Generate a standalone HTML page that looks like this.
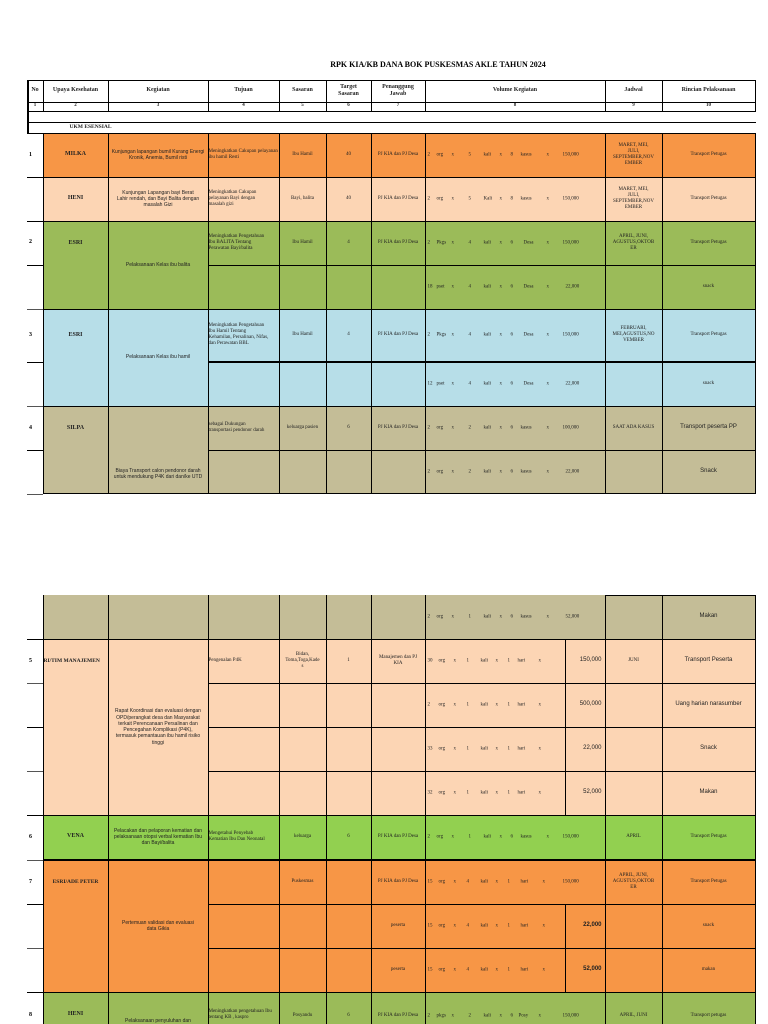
<!DOCTYPE html>
<html style="overflow:hidden"><head><meta charset="utf-8">
<style>
html,body{margin:0;width:768px;height:1024px;overflow:hidden}
body{background:#fff;position:relative;font-family:"Liberation Serif",serif;}
.c{position:absolute;box-sizing:border-box;border:1px solid #000;display:flex;align-items:center;justify-content:center;text-align:center;font-size:5px;line-height:1.25;color:#222;overflow:hidden;margin:-0.5px 0 0 -0.5px}
.s{font-family:"Liberation Sans",sans-serif;padding-left:5px;padding-right:5px}
.l{justify-content:flex-start;text-align:left;}
.b{font-weight:bold;font-size:6px;}
.v{position:absolute;box-sizing:border-box;border:1px solid #000;font-size:5px;color:#222;margin:-0.5px 0 0 -0.5px}
.v i{font-style:normal;position:absolute;top:50%;transform:translateY(-50%);}
.n{position:absolute;left:29px;font-size:6px;font-weight:bold;transform:translateY(-50%);}
.h{font-weight:bold;font-size:6px;background:#fff}
</style></head><body>
<div style="position:absolute;left:0;width:876px;top:60px;text-align:center;font-weight:bold;font-size:8px">RPK KIA/KB DANA BOK  PUSKESMAS AKLE TAHUN 2024</div>

<!-- header -->
<div class="c h" style="left:27px;top:80px;width:17px;height:23px">No</div>
<div class="c h" style="left:43px;top:80px;width:66px;height:23px">Upaya Kesehatan</div>
<div class="c h" style="left:108px;top:80px;width:101px;height:23px">Kegiatan</div>
<div class="c h" style="left:208px;top:80px;width:72px;height:23px">Tujuan</div>
<div class="c h" style="left:279px;top:80px;width:48px;height:23px">Sasaran</div>
<div class="c h" style="left:326px;top:80px;width:46px;height:23px">Target<br>Sasaran</div>
<div class="c h" style="left:371px;top:80px;width:55px;height:23px">Penanggung<br>Jawab</div>
<div class="c h" style="left:425px;top:80px;width:181px;height:23px">Volume Kegiatan</div>
<div class="c h" style="left:605px;top:80px;width:58px;height:23px">Jadwal</div>
<div class="c h" style="left:662px;top:80px;width:94px;height:23px">Rincian Pelaksanaan</div>
<div class="c h" style="left:27px;top:102px;width:17px;height:10px;font-size:5px">1</div>
<div class="c h" style="left:43px;top:102px;width:66px;height:10px;font-size:5px">2</div>
<div class="c h" style="left:108px;top:102px;width:101px;height:10px;font-size:5px">3</div>
<div class="c h" style="left:208px;top:102px;width:72px;height:10px;font-size:5px">4</div>
<div class="c h" style="left:279px;top:102px;width:48px;height:10px;font-size:5px">5</div>
<div class="c h" style="left:326px;top:102px;width:46px;height:10px;font-size:5px">6</div>
<div class="c h" style="left:371px;top:102px;width:55px;height:10px;font-size:5px">7</div>
<div class="c h" style="left:425px;top:102px;width:181px;height:10px;font-size:5px">8</div>
<div class="c h" style="left:605px;top:102px;width:58px;height:10px;font-size:5px">9</div>
<div class="c h" style="left:662px;top:102px;width:94px;height:10px;font-size:5px">10</div>
<div class="c h" style="left:27px;top:111px;width:729px;height:12px;border-right:none"></div>
<div class="c h l" style="left:27px;top:122px;width:729px;height:12px;border-right:none;padding-left:42px;font-size:5.5px">UKM ESENSIAL</div>
<div style="position:absolute;left:27px;top:80px;width:2px;height:54px;background:#000"></div>

<!-- Row 1 -->
<div class="n" style="top:155px">1</div>
<div class="c b" style="left:43px;top:133px;width:66px;height:45px;background:#f79646">MILKA</div>
<div class="c s" style="left:108px;top:133px;width:101px;height:45px;background:#f79646;padding:0 1px">Kunjungan lapangan bumil Kurang Energi Kronik, Anemia, Bumil risti</div>
<div class="c l" style="left:208px;top:133px;width:72px;height:45px;background:#f79646">Meningkatkan Cakupan pelayanan ibu hamil Resti</div>
<div class="c" style="left:279px;top:133px;width:48px;height:45px;background:#f79646">Ibu Hamil</div>
<div class="c" style="left:326px;top:133px;width:46px;height:45px;background:#f79646">40</div>
<div class="c" style="left:371px;top:133px;width:55px;height:45px;background:#f79646">PJ KIA dan PJ Desa</div>
<div class="v" style="left:425px;top:133px;width:181px;height:45px;background:#f79646"><i style="left:2px">2</i><i style="left:11px">org</i><i style="left:26px">x</i><i style="left:43px">5</i><i style="left:58px">kali</i><i style="left:74px">x</i><i style="left:85px">8</i><i style="left:95px">kasus</i><i style="left:121px">x</i><i style="left:137px">150,000</i></div>
<div class="c" style="left:605px;top:133px;width:58px;height:45px;background:#f79646">MARET, MEI,<br>JULI,<br>SEPTEMBER,NOV<br>EMBER</div>
<div class="c" style="left:662px;top:133px;width:94px;height:45px;background:#f79646">Transport Petugas</div>

<!-- Row HENI -->
<div class="c b" style="left:43px;top:177px;width:66px;height:45px;background:#fcd5b4">HENI</div>
<div class="c s" style="left:108px;top:177px;width:101px;height:45px;background:#fcd5b4;padding:0 8px">Kunjungan Lapangan bayi Berat Lahir rendah, dan Bayi Balita dengan masalah Gizi</div>
<div class="c l" style="left:208px;top:177px;width:72px;height:45px;background:#fcd5b4;padding-right:6px">Meningkatkan Cakupan pelayanan Bayi dengan masalah gizi</div>
<div class="c" style="left:279px;top:177px;width:48px;height:45px;background:#fcd5b4">Bayi, balita</div>
<div class="c" style="left:326px;top:177px;width:46px;height:45px;background:#fcd5b4">40</div>
<div class="c" style="left:371px;top:177px;width:55px;height:45px;background:#fcd5b4">PJ KIA dan PJ Desa</div>
<div class="v" style="left:425px;top:177px;width:181px;height:45px;background:#fcd5b4"><i style="left:2px">2</i><i style="left:11px">org</i><i style="left:26px">x</i><i style="left:43px">5</i><i style="left:58px">Kali</i><i style="left:74px">x</i><i style="left:85px">8</i><i style="left:95px">kasus</i><i style="left:121px">x</i><i style="left:137px">150,000</i></div>
<div class="c" style="left:605px;top:177px;width:58px;height:45px;background:#fcd5b4">MARET, MEI,<br>JULI,<br>SEPTEMBER,NOV<br>EMBER</div>
<div class="c" style="left:662px;top:177px;width:94px;height:45px;background:#fcd5b4">Transport Petugas</div>

<!-- Row 2 ESRI green -->
<div class="n" style="top:242px">2</div>
<div class="c b" style="left:43px;top:221px;width:66px;height:89px;background:#9bbb59;align-items:flex-start;padding-top:18px">ESRI</div>
<div class="c s" style="left:108px;top:221px;width:101px;height:89px;background:#9bbb59">Pelaksanaan Kelas ibu balita</div>
<div class="c l" style="left:208px;top:221px;width:72px;height:45px;background:#9bbb59;padding-right:10px">Meningkatkan Pengetahuan Ibu BALITA Tentang Perawatan Bayi/balita</div>
<div class="c" style="left:279px;top:221px;width:48px;height:45px;background:#9bbb59">Ibu Hamil</div>
<div class="c" style="left:326px;top:221px;width:46px;height:45px;background:#9bbb59">4</div>
<div class="c" style="left:371px;top:221px;width:55px;height:45px;background:#9bbb59">PJ KIA dan PJ Desa</div>
<div class="v" style="left:425px;top:221px;width:181px;height:45px;background:#9bbb59"><i style="left:2px">2</i><i style="left:11px">Pkgs</i><i style="left:26px">x</i><i style="left:43px">4</i><i style="left:58px">kali</i><i style="left:74px">x</i><i style="left:85px">6</i><i style="left:98px">Desa</i><i style="left:121px">x</i><i style="left:137px">150,000</i></div>
<div class="c" style="left:605px;top:221px;width:58px;height:45px;background:#9bbb59">APRIL, JUNI,<br>AGUSTUS,OKTOB<br>ER</div>
<div class="c" style="left:662px;top:221px;width:94px;height:45px;background:#9bbb59">Transport Petugas</div>
<div class="c" style="left:208px;top:265px;width:72px;height:45px;background:#9bbb59"></div>
<div class="c" style="left:279px;top:265px;width:48px;height:45px;background:#9bbb59"></div>
<div class="c" style="left:326px;top:265px;width:46px;height:45px;background:#9bbb59"></div>
<div class="c" style="left:371px;top:265px;width:55px;height:45px;background:#9bbb59"></div>
<div class="v" style="left:425px;top:265px;width:181px;height:45px;background:#9bbb59"><i style="left:2px">18</i><i style="left:11px">pset</i><i style="left:26px">x</i><i style="left:43px">4</i><i style="left:58px">kali</i><i style="left:74px">x</i><i style="left:85px">6</i><i style="left:98px">Desa</i><i style="left:121px">x</i><i style="left:140px">22,000</i></div>
<div class="c" style="left:605px;top:265px;width:58px;height:45px;background:#9bbb59"></div>
<div class="c" style="left:662px;top:265px;width:94px;height:45px;background:#9bbb59">snack</div>

<!-- Row 3 ESRI blue -->
<div class="n" style="top:335px">3</div>
<div class="c b" style="left:43px;top:309px;width:66px;height:98px;background:#b7dee8;align-items:flex-start;padding-top:22px">ESRI</div>
<div class="c s" style="left:108px;top:309px;width:101px;height:98px;background:#b7dee8">Pelaksanaan Kelas ibu hamil</div>
<div class="c l" style="left:208px;top:309px;width:72px;height:53px;background:#b7dee8;padding-right:10px">Meningkatkan Pengetahuan Ibu Hamil Tentang Kehamilan, Persalinan, Nifas, dan Perawatan BBL</div>
<div class="c" style="left:279px;top:309px;width:48px;height:53px;background:#b7dee8">Ibu Hamil</div>
<div class="c" style="left:326px;top:309px;width:46px;height:53px;background:#b7dee8">4</div>
<div class="c" style="left:371px;top:309px;width:55px;height:53px;background:#b7dee8">PJ KIA dan PJ Desa</div>
<div class="v" style="left:425px;top:309px;width:181px;height:53px;background:#b7dee8"><i style="left:2px">2</i><i style="left:11px">Pkgs</i><i style="left:26px">x</i><i style="left:43px">4</i><i style="left:58px">kali</i><i style="left:74px">x</i><i style="left:85px">6</i><i style="left:98px">Desa</i><i style="left:121px">x</i><i style="left:137px">150,000</i></div>
<div class="c" style="left:605px;top:309px;width:58px;height:53px;background:#b7dee8">FEBRUARI,<br>MEI,AGUSTUS,NO<br>VEMBER</div>
<div class="c" style="left:662px;top:309px;width:94px;height:53px;background:#b7dee8">Transport Petugas</div>
<div class="c" style="left:208px;top:362px;width:72px;height:45px;background:#b7dee8"></div>
<div class="c" style="left:279px;top:362px;width:48px;height:45px;background:#b7dee8"></div>
<div class="c" style="left:326px;top:362px;width:46px;height:45px;background:#b7dee8"></div>
<div class="c" style="left:371px;top:362px;width:55px;height:45px;background:#b7dee8"></div>
<div class="v" style="left:425px;top:362px;width:181px;height:45px;background:#b7dee8"><i style="left:2px">12</i><i style="left:11px">pset</i><i style="left:26px">x</i><i style="left:43px">4</i><i style="left:58px">kali</i><i style="left:74px">x</i><i style="left:85px">6</i><i style="left:98px">Desa</i><i style="left:121px">x</i><i style="left:140px">22,000</i></div>
<div class="c" style="left:605px;top:362px;width:58px;height:45px;background:#b7dee8"></div>
<div class="c" style="left:662px;top:362px;width:94px;height:45px;background:#b7dee8">snack</div>

<!-- Row 4 SILPA tan -->
<div class="n" style="top:428px">4</div>
<div class="c b" style="left:43px;top:406px;width:66px;height:88px;background:#c4bd97;align-items:flex-start;padding-top:18px">SILPA</div>
<div class="c s" style="left:108px;top:406px;width:101px;height:88px;background:#c4bd97;align-items:flex-end;padding-bottom:12px">Biaya Transport calon pendonor darah untuk mendukung P4K dari dan/ke UTD</div>
<div class="c l" style="left:208px;top:406px;width:72px;height:45px;background:#c4bd97;padding-right:12px">sebagai Dukungan transportasi pendonor darah</div>
<div class="c" style="left:279px;top:406px;width:48px;height:45px;background:#c4bd97">keluarga pasien</div>
<div class="c" style="left:326px;top:406px;width:46px;height:45px;background:#c4bd97">6</div>
<div class="c" style="left:371px;top:406px;width:55px;height:45px;background:#c4bd97">PJ KIA dan PJ Desa</div>
<div class="v" style="left:425px;top:406px;width:181px;height:45px;background:#c4bd97"><i style="left:2px">2</i><i style="left:11px">org</i><i style="left:26px">x</i><i style="left:43px">2</i><i style="left:58px">kali</i><i style="left:74px">x</i><i style="left:85px">6</i><i style="left:95px">kasus</i><i style="left:121px">x</i><i style="left:137px">100,000</i></div>
<div class="c" style="left:605px;top:406px;width:58px;height:45px;background:#c4bd97">SAAT ADA KASUS</div>
<div class="c s" style="left:662px;top:406px;width:94px;height:45px;background:#c4bd97;font-size:6px">Transport peserta PP</div>
<div class="c" style="left:208px;top:450px;width:72px;height:44px;background:#c4bd97"></div>
<div class="c" style="left:279px;top:450px;width:48px;height:44px;background:#c4bd97"></div>
<div class="c" style="left:326px;top:450px;width:46px;height:44px;background:#c4bd97"></div>
<div class="c" style="left:371px;top:450px;width:55px;height:44px;background:#c4bd97"></div>
<div class="v" style="left:425px;top:450px;width:181px;height:44px;background:#c4bd97"><i style="left:2px">2</i><i style="left:11px">org</i><i style="left:26px">x</i><i style="left:43px">2</i><i style="left:58px">kali</i><i style="left:74px">x</i><i style="left:85px">6</i><i style="left:95px">kasus</i><i style="left:121px">x</i><i style="left:140px">22,000</i></div>
<div class="c" style="left:605px;top:450px;width:58px;height:44px;background:#c4bd97"></div>
<div class="c s" style="left:662px;top:450px;width:94px;height:44px;background:#c4bd97;font-size:6px">Snack</div>

<!-- Continuation tan row -->
<div class="c" style="left:43px;top:595px;width:66px;height:45px;background:#c4bd97;border-top:none"></div>
<div class="c" style="left:108px;top:595px;width:101px;height:45px;background:#c4bd97;border-top:none"></div>
<div class="c" style="left:208px;top:595px;width:72px;height:45px;background:#c4bd97;border-top:none"></div>
<div class="c" style="left:279px;top:595px;width:48px;height:45px;background:#c4bd97;border-top:none"></div>
<div class="c" style="left:326px;top:595px;width:46px;height:45px;background:#c4bd97;border-top:none"></div>
<div class="c" style="left:371px;top:595px;width:55px;height:45px;background:#c4bd97;border-top:none"></div>
<div class="v" style="left:425px;top:595px;width:181px;height:45px;background:#c4bd97;border-top:none"><i style="left:2px">2</i><i style="left:11px">org</i><i style="left:26px">x</i><i style="left:43px">1</i><i style="left:58px">kali</i><i style="left:74px">x</i><i style="left:85px">6</i><i style="left:95px">kasus</i><i style="left:121px">x</i><i style="left:140px">52,000</i></div>
<div class="c" style="left:605px;top:595px;width:58px;height:45px;background:#c4bd97"></div>
<div class="c s" style="left:662px;top:595px;width:94px;height:45px;background:#c4bd97;font-size:6px">Makan</div>

<!-- Row 5 peach -->
<div class="n" style="top:661px">5</div>
<div class="c b l" style="left:43px;top:639px;width:66px;height:177px;background:#fcd5b4;align-items:flex-start;padding-top:18px;font-size:5.5px;white-space:nowrap">RI/TIM MANAJEMEN</div>
<div class="c s" style="left:108px;top:639px;width:101px;height:177px;background:#fcd5b4">Rapat Koordinasi dan evaluasi dengan OPD/perangkat desa dan Masyarakat terkait Perencanaan Persalinan dan Pencegahan Komplikasi (P4K), termasuk pemantauan ibu hamil risiko tinggi</div>
<div class="c l" style="left:208px;top:639px;width:72px;height:45px;background:#fcd5b4">Pengenalan P4K</div>
<div class="c" style="left:279px;top:639px;width:48px;height:45px;background:#fcd5b4">Bidan,<br>Toma,Toga,Kade<br>s</div>
<div class="c" style="left:326px;top:639px;width:46px;height:45px;background:#fcd5b4">1</div>
<div class="c" style="left:371px;top:639px;width:55px;height:45px;background:#fcd5b4">Manajemen dan PJ<br>KIA</div>
<div class="v" style="left:425px;top:639px;width:141px;height:45px;background:#fcd5b4"><i style="left:2px">30</i><i style="left:13px">org</i><i style="left:28px">x</i><i style="left:41px">1</i><i style="left:55px">kali</i><i style="left:70px">x</i><i style="left:82px">1</i><i style="left:92px">hari</i><i style="left:113px">x</i></div>
<div class="c s" style="left:565px;top:639px;width:41px;height:45px;background:#fcd5b4;font-size:6px;justify-content:flex-end;padding-right:3px">150,000</div>
<div class="c" style="left:605px;top:639px;width:58px;height:45px;background:#fcd5b4">JUNI</div>
<div class="c s" style="left:662px;top:639px;width:94px;height:45px;background:#fcd5b4;font-size:6px">Transport Peserta</div>

<div class="c" style="left:208px;top:683px;width:72px;height:45px;background:#fcd5b4"></div>
<div class="c" style="left:279px;top:683px;width:48px;height:45px;background:#fcd5b4"></div>
<div class="c" style="left:326px;top:683px;width:46px;height:45px;background:#fcd5b4"></div>
<div class="c" style="left:371px;top:683px;width:55px;height:45px;background:#fcd5b4"></div>
<div class="v" style="left:425px;top:683px;width:141px;height:45px;background:#fcd5b4"><i style="left:2px">2</i><i style="left:13px">org</i><i style="left:28px">x</i><i style="left:41px">1</i><i style="left:55px">kali</i><i style="left:70px">x</i><i style="left:82px">1</i><i style="left:92px">hari</i><i style="left:113px">x</i></div>
<div class="c s" style="left:565px;top:683px;width:41px;height:45px;background:#fcd5b4;font-size:6px;justify-content:flex-end;padding-right:3px">500,000</div>
<div class="c" style="left:605px;top:683px;width:58px;height:45px;background:#fcd5b4"></div>
<div class="c s" style="left:662px;top:683px;width:94px;height:45px;background:#fcd5b4;font-size:6px">Uang harian narasumber</div>

<div class="c" style="left:208px;top:727px;width:72px;height:45px;background:#fcd5b4"></div>
<div class="c" style="left:279px;top:727px;width:48px;height:45px;background:#fcd5b4"></div>
<div class="c" style="left:326px;top:727px;width:46px;height:45px;background:#fcd5b4"></div>
<div class="c" style="left:371px;top:727px;width:55px;height:45px;background:#fcd5b4"></div>
<div class="v" style="left:425px;top:727px;width:141px;height:45px;background:#fcd5b4"><i style="left:2px">33</i><i style="left:13px">org</i><i style="left:28px">x</i><i style="left:41px">1</i><i style="left:55px">kali</i><i style="left:70px">x</i><i style="left:82px">1</i><i style="left:92px">hari</i><i style="left:113px">x</i></div>
<div class="c s" style="left:565px;top:727px;width:41px;height:45px;background:#fcd5b4;font-size:6px;justify-content:flex-end;padding-right:3px">22,000</div>
<div class="c" style="left:605px;top:727px;width:58px;height:45px;background:#fcd5b4"></div>
<div class="c s" style="left:662px;top:727px;width:94px;height:45px;background:#fcd5b4;font-size:6px">Snack</div>

<div class="c" style="left:208px;top:771px;width:72px;height:45px;background:#fcd5b4"></div>
<div class="c" style="left:279px;top:771px;width:48px;height:45px;background:#fcd5b4"></div>
<div class="c" style="left:326px;top:771px;width:46px;height:45px;background:#fcd5b4"></div>
<div class="c" style="left:371px;top:771px;width:55px;height:45px;background:#fcd5b4"></div>
<div class="v" style="left:425px;top:771px;width:141px;height:45px;background:#fcd5b4"><i style="left:2px">32</i><i style="left:13px">org</i><i style="left:28px">x</i><i style="left:41px">1</i><i style="left:55px">kali</i><i style="left:70px">x</i><i style="left:82px">1</i><i style="left:92px">hari</i><i style="left:113px">x</i></div>
<div class="c s" style="left:565px;top:771px;width:41px;height:45px;background:#fcd5b4;font-size:6px;justify-content:flex-end;padding-right:3px">52,000</div>
<div class="c" style="left:605px;top:771px;width:58px;height:45px;background:#fcd5b4"></div>
<div class="c s" style="left:662px;top:771px;width:94px;height:45px;background:#fcd5b4;font-size:6px">Makan</div>

<!-- Row 6 VENA -->
<div class="n" style="top:837px">6</div>
<div class="c b" style="left:43px;top:815px;width:66px;height:45px;background:#92d050">VENA</div>
<div class="c s" style="left:108px;top:815px;width:101px;height:45px;background:#92d050;padding:0 2px">Pelacakan dan pelaporan kematian dan pelaksanaan otopsi verbal kematian Ibu dan Bayi/balita</div>
<div class="c l" style="left:208px;top:815px;width:72px;height:45px;background:#92d050;padding-right:12px">Mengetahui Penyebab Kematian Ibu Dan Neonatal</div>
<div class="c" style="left:279px;top:815px;width:48px;height:45px;background:#92d050">keluarga</div>
<div class="c" style="left:326px;top:815px;width:46px;height:45px;background:#92d050">6</div>
<div class="c" style="left:371px;top:815px;width:55px;height:45px;background:#92d050">PJ KIA dan PJ Desa</div>
<div class="v" style="left:425px;top:815px;width:181px;height:45px;background:#92d050"><i style="left:2px">2</i><i style="left:11px">org</i><i style="left:26px">x</i><i style="left:43px">1</i><i style="left:58px">kali</i><i style="left:74px">x</i><i style="left:85px">6</i><i style="left:95px">kasus</i><i style="left:121px">x</i><i style="left:137px">150,000</i></div>
<div class="c" style="left:605px;top:815px;width:58px;height:45px;background:#92d050">APRIL</div>
<div class="c" style="left:662px;top:815px;width:94px;height:45px;background:#92d050">Transport Petugas</div>

<!-- Row 7 orange -->
<div class="n" style="top:882px">7</div>
<div class="c b" style="left:43px;top:860px;width:66px;height:133px;background:#f79646;align-items:flex-start;padding-top:18px;font-size:5.5px">ESRI/ADE PETER</div>
<div class="c s" style="left:108px;top:860px;width:101px;height:133px;background:#f79646;padding:0 8px">Pertemuan validasi dan evaluasi data Gikia</div>
<div class="c" style="left:208px;top:860px;width:72px;height:45px;background:#f79646"></div>
<div class="c" style="left:279px;top:860px;width:48px;height:45px;background:#f79646">Puskesmas</div>
<div class="c" style="left:326px;top:860px;width:46px;height:45px;background:#f79646"></div>
<div class="c" style="left:371px;top:860px;width:55px;height:45px;background:#f79646">PJ KIA dan PJ Desa</div>
<div class="v" style="left:425px;top:860px;width:181px;height:45px;background:#f79646"><i style="left:2px">15</i><i style="left:13px">org</i><i style="left:28px">x</i><i style="left:41px">4</i><i style="left:55px">kali</i><i style="left:70px">x</i><i style="left:82px">1</i><i style="left:95px">hari</i><i style="left:117px">x</i><i style="left:137px">150,000</i></div>
<div class="c" style="left:605px;top:860px;width:58px;height:45px;background:#f79646">APRIL, JUNI,<br>AGUSTUS,OKTOB<br>ER</div>
<div class="c" style="left:662px;top:860px;width:94px;height:45px;background:#f79646">Transport Petugas</div>

<div class="c" style="left:208px;top:904px;width:72px;height:45px;background:#f79646"></div>
<div class="c" style="left:279px;top:904px;width:48px;height:45px;background:#f79646"></div>
<div class="c" style="left:326px;top:904px;width:46px;height:45px;background:#f79646"></div>
<div class="c" style="left:371px;top:904px;width:55px;height:45px;background:#f79646">peserta</div>
<div class="v" style="left:425px;top:904px;width:141px;height:45px;background:#f79646"><i style="left:2px">15</i><i style="left:13px">org</i><i style="left:28px">x</i><i style="left:41px">4</i><i style="left:55px">kali</i><i style="left:70px">x</i><i style="left:82px">1</i><i style="left:95px">hari</i><i style="left:117px">x</i></div>
<div class="c s" style="left:565px;top:904px;width:41px;height:45px;background:#f79646;font-size:6px;font-weight:bold;justify-content:flex-end;padding-right:3px">22,000</div>
<div class="c" style="left:605px;top:904px;width:58px;height:45px;background:#f79646"></div>
<div class="c" style="left:662px;top:904px;width:94px;height:45px;background:#f79646">snack</div>

<div class="c" style="left:208px;top:948px;width:72px;height:45px;background:#f79646"></div>
<div class="c" style="left:279px;top:948px;width:48px;height:45px;background:#f79646"></div>
<div class="c" style="left:326px;top:948px;width:46px;height:45px;background:#f79646"></div>
<div class="c" style="left:371px;top:948px;width:55px;height:45px;background:#f79646">peserta</div>
<div class="v" style="left:425px;top:948px;width:141px;height:45px;background:#f79646"><i style="left:2px">15</i><i style="left:13px">org</i><i style="left:28px">x</i><i style="left:41px">4</i><i style="left:55px">kali</i><i style="left:70px">x</i><i style="left:82px">1</i><i style="left:95px">hari</i><i style="left:117px">x</i></div>
<div class="c s" style="left:565px;top:948px;width:41px;height:45px;background:#f79646;font-size:6px;font-weight:bold;justify-content:flex-end;padding-right:3px">52,000</div>
<div class="c" style="left:605px;top:948px;width:58px;height:45px;background:#f79646"></div>
<div class="c" style="left:662px;top:948px;width:94px;height:45px;background:#f79646">makan</div>

<!-- Row 8 -->
<div class="n" style="top:1015px">8</div>
<div class="c b" style="left:43px;top:992px;width:66px;height:40px;background:#9bbb59;align-items:flex-start;padding-top:18px">HENI</div>
<div class="c s" style="left:108px;top:992px;width:101px;height:40px;background:#9bbb59;align-items:flex-start;padding-top:25px">Pelaksanaan penyuluhan dan pelayanan KB pada MKJP di Posyandu</div>
<div class="c l" style="left:208px;top:992px;width:72px;height:40px;background:#9bbb59;align-items:flex-start;padding-top:16px">Meningkatkan pengetahuan Ibu tentang KB , kaspro</div>
<div class="c" style="left:279px;top:992px;width:48px;height:40px;background:#9bbb59;align-items:flex-start;padding-top:20px">Posyandu</div>
<div class="c" style="left:326px;top:992px;width:46px;height:40px;background:#9bbb59;align-items:flex-start;padding-top:20px">6</div>
<div class="c" style="left:371px;top:992px;width:55px;height:40px;background:#9bbb59;align-items:flex-start;padding-top:20px">PJ KIA dan PJ Desa</div>
<div class="v" style="left:425px;top:992px;width:181px;height:40px;background:#9bbb59"><i style="left:2px;top:23px">2</i><i style="left:11px;top:23px">pkgs</i><i style="left:26px;top:23px">x</i><i style="left:43px;top:23px">2</i><i style="left:58px;top:23px">kali</i><i style="left:74px;top:23px">x</i><i style="left:85px;top:23px">6</i><i style="left:93px;top:23px">Posy</i><i style="left:113px;top:23px">x</i><i style="left:137px;top:23px">150,000</i></div>
<div class="c" style="left:605px;top:992px;width:58px;height:40px;background:#9bbb59;align-items:flex-start;padding-top:20px">APRIL, JUNI</div>
<div class="c" style="left:662px;top:992px;width:94px;height:40px;background:#9bbb59;align-items:flex-start;padding-top:20px">Transport petugas</div>

<!-- left row separators -->
<div style="position:absolute;left:27px;top:177px;width:16px;height:1px;background:#000"></div>
<div style="position:absolute;left:27px;top:221px;width:16px;height:1px;background:#000"></div>
<div style="position:absolute;left:27px;top:265px;width:16px;height:1px;background:#000"></div>
<div style="position:absolute;left:27px;top:309px;width:16px;height:1px;background:#555"></div>
<div style="position:absolute;left:27px;top:362px;width:16px;height:1px;background:#000"></div>
<div style="position:absolute;left:27px;top:406px;width:16px;height:1px;background:#555"></div>
<div style="position:absolute;left:27px;top:450px;width:16px;height:1px;background:#000"></div>
<div style="position:absolute;left:27px;top:494px;width:16px;height:1px;background:#555"></div>
<div style="position:absolute;left:27px;top:639px;width:16px;height:1px;background:#000"></div>
<div style="position:absolute;left:27px;top:683px;width:16px;height:1px;background:#555"></div>
<div style="position:absolute;left:27px;top:727px;width:16px;height:1px;background:#000"></div>
<div style="position:absolute;left:27px;top:771px;width:16px;height:1px;background:#555"></div>
<div style="position:absolute;left:27px;top:815px;width:16px;height:1px;background:#000"></div>
<div style="position:absolute;left:27px;top:860px;width:16px;height:1px;background:#555"></div>
<div style="position:absolute;left:27px;top:904px;width:16px;height:1px;background:#000"></div>
<div style="position:absolute;left:27px;top:948px;width:16px;height:1px;background:#555"></div>
<div style="position:absolute;left:27px;top:992px;width:16px;height:1px;background:#000"></div>
</body></html>
